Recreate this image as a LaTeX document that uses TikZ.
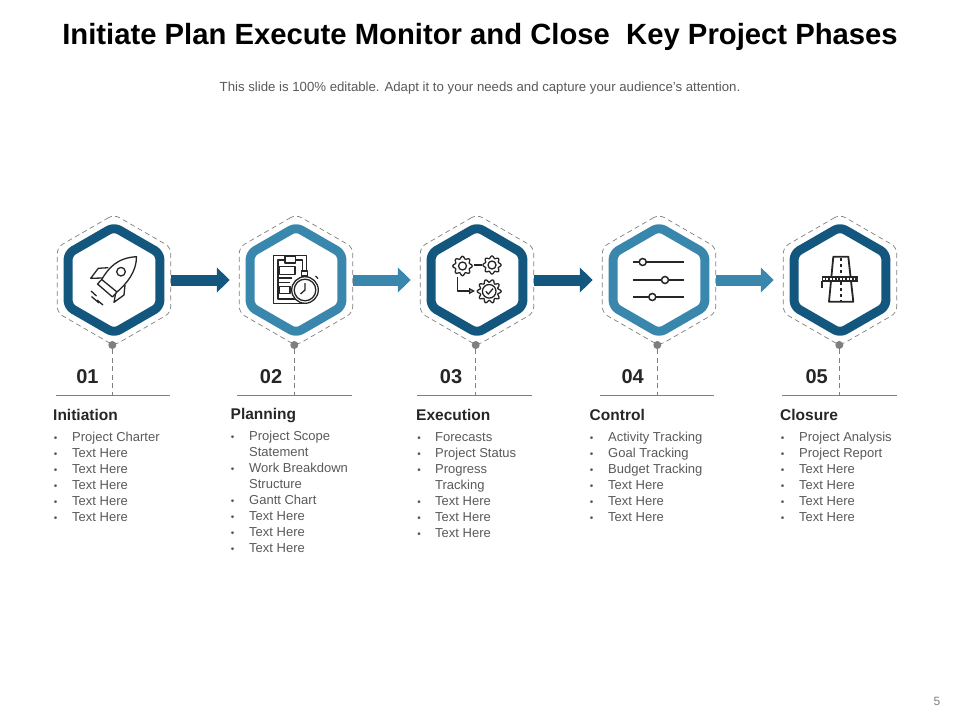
\documentclass[tikz,border=0pt]{standalone}
\usepackage{fontspec}
\setmainfont{Liberation Sans}
\usetikzlibrary{arrows.meta}
\usetikzlibrary{shapes.geometric}
\definecolor{darkblue}{HTML}{14577E}
\definecolor{lightblue}{HTML}{3A87AD}
\definecolor{bodygray}{HTML}{595959}
\definecolor{headgray}{HTML}{262626}
\definecolor{dotgray}{HTML}{7F7F7F}
\tikzset{
    hexouter/.style={regular polygon, regular polygon sides=6, shape border rotate=30, minimum size=131pt, inner sep=0, outer sep=0, draw=dotgray, line width=.7pt, dash pattern=on 5pt off 3.5pt, rounded corners=6pt},
    hexring/.style={regular polygon, regular polygon sides=6, shape border rotate=30, minimum size=106pt, inner sep=0, outer sep=0, draw=#1, fill=white, line width=9pt, rounded corners=6pt, line join=round},
    phasearrow/.style={#1, line width=11pt, -{Triangle[length=13pt, width=24.4pt]}, shorten >=9.5pt},
    phasedot/.style={circle, fill=dotgray, minimum size=8pt, inner sep=0},
    leaderline/.style={dotgray, line width=.7pt, dash pattern=on 5pt off 3.5pt},
    rulerline/.style={gray, line width=.8pt},
    phasenum/.style={font=\fontsize{20}{24}\selectfont\bfseries, text=headgray, inner sep=0},
    phasehead/.style={anchor=base west, font=\fontsize{15.5}{19}\selectfont\bfseries, text=headgray, inner sep=0},
    phaselist/.style={anchor=north west, align=left, font=\fontsize{13}{16}\selectfont, text=bodygray, inner sep=0},
    phasebullet/.style={anchor=north, align=center, font=\fontsize{10}{16}\selectfont, text=bodygray, inner sep=0},
    iconline/.style={black!85, line width=1.3pt, line join=round},
}
% gear outline: centre x, centre y, radius, teeth
\newcommand{\gearicon}[4]{
    \draw[iconline, fill=white] plot[domain=0:360, samples=#4*10+1] ({#1+(#3+.14*#3*cos(#4*\x))*cos(\x)}, {#2+(#3+.14*#3*cos(#4*\x))*sin(\x)}) -- cycle;
}

\begin{document}
\begin{tikzpicture}[x=1pt, y=-1pt]
    \useasboundingbox (0, 0) rectangle (960, 720);
    \node (title) at (480, 37) [font=\fontsize{29.25}{34}\selectfont\bfseries, inner sep=0] {Initiate Plan Execute Monitor and Close\ \ Key Project Phases};
    \node (subtitle) at (480, 88) [font=\fontsize{13.2}{15}\selectfont, text=bodygray, inner sep=0] {This slide is 100\% editable. Adapt it to your needs and capture your audience's attention.};
    \node (pagenum) at (937, 701) [font=\fontsize{12}{14}\selectfont, text=gray, inner sep=0] {5};

    % hexagons
    \node (hexout1) at (114, 280) [hexouter] {};
    \node (hexout2) at (296, 280) [hexouter] {};
    \node (hexout3) at (477, 280) [hexouter] {};
    \node (hexout4) at (659, 280) [hexouter] {};
    \node (hexout5) at (840, 280) [hexouter] {};
    \node (hexin1) at (114, 280) [hexring=darkblue] {};
    \node (hexin2) at (296, 280) [hexring=lightblue] {};
    \node (hexin3) at (477, 280) [hexring=darkblue] {};
    \node (hexin4) at (659, 280) [hexring=lightblue] {};
    \node (hexin5) at (840, 280) [hexring=darkblue] {};
    \draw[phasearrow=darkblue](hexout1.east)--(hexout2.west);
    \draw[phasearrow=lightblue](hexout2.east)--(hexout3.west);
    \draw[phasearrow=darkblue](hexout3.east)--(hexout4.west);
    \draw[phasearrow=lightblue](hexout4.east)--(hexout5.west);

    % leaders
    \coordinate (ruleleft1) at (55.7, 395.7);
    \coordinate (ruleright1) at (170, 395.7);
    \coordinate (ruleleft2) at (237.3, 395.7);
    \coordinate (ruleright2) at (351.7, 395.7);
    \coordinate (ruleleft3) at (417.3, 395.7);
    \coordinate (ruleright3) at (532, 395.7);
    \coordinate (ruleleft4) at (599.7, 395.7);
    \coordinate (ruleright4) at (714, 395.7);
    \coordinate (ruleleft5) at (782, 395.7);
    \coordinate (ruleright5) at (897, 395.7);
    \draw[rulerline](ruleleft1)--(ruleright1);
    \draw[rulerline](ruleleft2)--(ruleright2);
    \draw[rulerline](ruleleft3)--(ruleright3);
    \draw[rulerline](ruleleft4)--(ruleright4);
    \draw[rulerline](ruleleft5)--(ruleright5);
    \node (dot1) at (112.3, 345) [phasedot] {};
    \node (dot2) at (294.3, 345) [phasedot] {};
    \node (dot3) at (475.7, 345) [phasedot] {};
    \node (dot4) at (657.3, 345) [phasedot] {};
    \node (dot5) at (839.3, 345) [phasedot] {};
    \draw[leaderline](dot1)--(dot1 |- ruleleft1);
    \draw[leaderline](dot2)--(dot2 |- ruleleft2);
    \draw[leaderline](dot3)--(dot3 |- ruleleft3);
    \draw[leaderline](dot4)--(dot4 |- ruleleft4);
    \draw[leaderline](dot5)--(dot5 |- ruleleft5);
    \node (num1) at (87.5, 377) [phasenum] {01};
    \node (num2) at (271, 377) [phasenum] {02};
    \node (num3) at (451, 377) [phasenum] {03};
    \node (num4) at (632.7, 377) [phasenum] {04};
    \node (num5) at (816.7, 377) [phasenum] {05};

    % rocket
    \draw[iconline](136.5, 256.7)..controls (117, 257.7) and (108.3, 268.3)..(101.7, 279.5)--(117, 292)..controls (127, 283.3) and (136.5, 271.7)..(136.5, 256.7)--cycle;
    \draw[iconline](101.7, 279.5)--(97.5, 284)--(112.5, 297)--(117, 292);
    \draw[iconline](108.3, 267.7)--(98.3, 268.3)--(90.7, 278.3)--(102.5, 278);
    \draw[iconline](125, 285)--(124, 295)--(114, 302.3)--(115.5, 294);
    \draw[iconline](121, 271.7)circle(4.3pt);
    \draw[iconline](91, 291)--(96.5, 296);
    \draw[iconline](91.5, 296.5)--(99, 303);
    \draw[iconline](97, 300)--(103, 305);

    % clipboard and stopwatch
    \draw[iconline, line width=1.5pt](273.3, 255.3)rectangle(306.7, 303.3);
    \draw[iconline](278, 260)rectangle(302.5, 299);
    \draw[iconline, fill=white](285, 256)rectangle(295.5, 263);
    \draw[iconline](279.3, 266.7)rectangle(295, 274.3);
    \draw[iconline](279.3, 278)--(292, 278);
    \draw[iconline](279.3, 282.5)--(290, 282.5);
    \draw[iconline](279.3, 286.7)rectangle(290, 293.3);
    \draw[iconline, fill=white](305, 290)circle(13.3pt);
    \draw[iconline](305, 290)circle(10.8pt);
    \draw[iconline, fill=white](301.7, 271)rectangle(307.7, 276);
    \draw[iconline](315.5, 276)--(318, 278.5);
    \draw[iconline](305, 283)--(305, 290)--(300.5, 294);

    % gears
    \gearicon{462.5}{266}{8.5}{8}
    \draw[iconline](462.5, 266)circle(4pt);
    \gearicon{492}{265}{8}{8}
    \draw[iconline](492, 265)circle(4pt);
    \draw[iconline](474, 265)--(482, 265);
    \draw[iconline, -{Triangle[open, length=6pt, width=6pt]}](457.3, 276.7)--(457.3, 291)--(475, 291);
    \gearicon{489.2}{291.3}{10.5}{10}
    \draw[iconline](489.2, 291.3)circle(6.8pt);
    \draw[iconline](485.8, 291.3)--(488.3, 294.1)--(493, 288.6);

    % sliders
    \draw[black!85, line width=1.5pt](633.3, 262)--(683.7, 262);
    \draw[black!85, line width=1.5pt](633.3, 280)--(683.7, 280);
    \draw[black!85, line width=1.5pt](633.3, 297)--(683.7, 297);
    \draw[black!85, fill=white, line width=1.5pt](642.7, 262)circle(3.5pt);
    \draw[black!85, fill=white, line width=1.5pt](665, 280)circle(3.5pt);
    \draw[black!85, fill=white, line width=1.5pt](652.3, 297)circle(3.5pt);

    % road
    \draw[iconline, line width=1.8pt](833.3, 256.7)--(848.3, 256.7)--(853.3, 301.7)--(829, 301.7)--cycle;
    \draw[black!85, line width=2pt, dash pattern=on 3pt off 3pt](840.7, 258)--(840.7, 301);
    \fill[black!85](821.7, 276)rectangle(858.3, 281.7);
    \draw[white, line width=1.8pt, dash pattern=on 1.8pt off 1.6pt](823, 278.8)--(857, 278.8);
    \draw[iconline](822, 281)--(822, 287.5);

    % phase texts
    \node (head1) at (53, 420) [phasehead] {Initiation};
    \node (bull1) at (55.7, 430.5) [phasebullet] {\strut•\\•\\•\\•\\•\\•};
    \node (list1) at (72, 430.5) [phaselist] {\strut Project Charter\\Text Here\\Text Here\\Text Here\\Text Here\\Text Here};
    \node (head2) at (230.5, 419) [phasehead] {Planning};
    \node (bull2) at (232.5, 429.5) [phasebullet] {\strut•\\ \\•\\ \\•\\•\\•\\•};
    \node (list2) at (249, 429.5) [phaselist] {\strut Project Scope\\Statement\\Work Breakdown\\Structure\\Gantt Chart\\Text Here\\Text Here\\Text Here};
    \node (head3) at (416, 420) [phasehead] {Execution};
    \node (bull3) at (419, 430.5) [phasebullet] {\strut•\\•\\•\\ \\•\\•\\•};
    \node (list3) at (435, 430.5) [phaselist] {\strut Forecasts\\Project Status\\Progress\\Tracking\\Text Here\\Text Here\\Text Here};
    \node (head4) at (589.5, 420) [phasehead] {Control};
    \node (bull4) at (591.7, 430.5) [phasebullet] {\strut•\\•\\•\\•\\•\\•};
    \node (list4) at (608, 430.5) [phaselist] {\strut Activity Tracking\\Goal Tracking\\Budget Tracking\\Text Here\\Text Here\\Text Here};
    \node (head5) at (780, 420) [phasehead] {Closure};
    \node (bull5) at (782.5, 430.5) [phasebullet] {\strut•\\•\\•\\•\\•\\•};
    \node (list5) at (799, 430.5) [phaselist] {\strut Project Analysis\\Project Report\\Text Here\\Text Here\\Text Here\\Text Here};
\end{tikzpicture}
\end{document}
